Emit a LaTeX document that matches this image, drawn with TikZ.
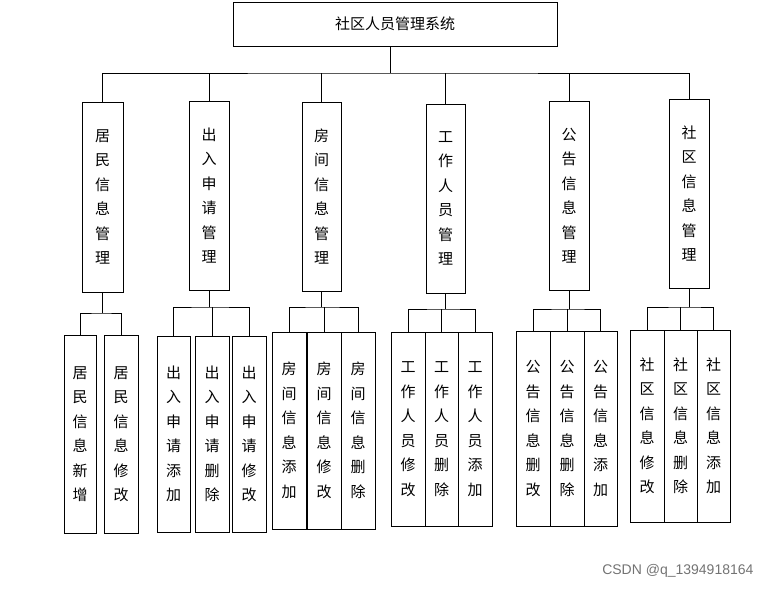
\documentclass[tikz,border=0pt]{standalone}
\usepackage{fontspec}
\newfontfamily\cjk{Noto Sans CJK SC}
\tikzset{bx/.style={draw,thick,inner sep=0pt,align=center,font=\cjk\fontsize{15}{24.5}\selectfont},ln/.style={thick}}
\newcommand\mybox[6]{\node[bx,minimum width={#4-#2},minimum height={#5-#3}] (#1) at ({(#2+#4)/2},{(#3+#5)/2}) {#6};}
\newcommand\grp[5]{\coordinate (t#1) at (#2,#3);
\draw[ln] (#1.south -| t#1) -- (t#1);
\draw[ln] (#4.north) |- (t#1) -| (#5.north);}
\begin{document}
\begin{tikzpicture}[x=1pt,y=-1pt]
\useasboundingbox (0,0) rectangle (772,589);
\mybox{r}{233}{2}{557}{46}{社区人员管理系统}
\mybox{a}{82}{102}{123}{292}{居\\民\\信\\息\\管\\理}
\mybox{b}{189}{101}{229}{290}{出\\入\\申\\请\\管\\理}
\mybox{c}{302}{102}{341}{291}{房\\间\\信\\息\\管\\理}
\mybox{d}{426}{104}{465}{293}{工\\作\\人\\员\\管\\理}
\mybox{e}{549}{101}{589}{290}{公\\告\\信\\息\\管\\理}
\mybox{f}{669}{99}{709}{288}{社\\区\\信\\息\\管\\理}
\coordinate (t) at (390,73);
\draw[ln] (t |- r.south) -- (t);
\draw[ln] (a.north) |- (t) -| (f.north);
\foreach \n in {b,c,d,e}{\draw[ln] (\n.north) -- (\n.north |- t);}
\mybox{a1}{64}{335}{96}{533}{居\\民\\信\\息\\新\\增}
\mybox{a2}{104}{335}{138}{533}{居\\民\\信\\息\\修\\改}
\mybox{b1}{157}{336}{190}{532}{出\\入\\申\\请\\添\\加}
\mybox{b2}{195}{336}{229}{532}{出\\入\\申\\请\\删\\除}
\mybox{b3}{232}{336}{266}{532}{出\\入\\申\\请\\修\\改}
\mybox{c1}{272}{332}{306}{529}{房\\间\\信\\息\\添\\加}
\mybox{c2}{307}{332}{341}{529}{房\\间\\信\\息\\修\\改}
\mybox{c3}{341}{332}{375}{529}{房\\间\\信\\息\\删\\除}
\mybox{d1}{391}{332}{425}{526}{工\\作\\人\\员\\修\\改}
\mybox{d2}{425}{332}{458}{526}{工\\作\\人\\员\\删\\除}
\mybox{d3}{458}{332}{492}{526}{工\\作\\人\\员\\添\\加}
\mybox{e1}{516}{331}{550}{526}{公\\告\\信\\息\\删\\改}
\mybox{e2}{550}{331}{584}{526}{公\\告\\信\\息\\删\\除}
\mybox{e3}{584}{331}{617}{526}{公\\告\\信\\息\\添\\加}
\mybox{f1}{630}{330}{664}{522}{社\\区\\信\\息\\修\\改}
\mybox{f2}{664}{330}{697}{522}{社\\区\\信\\息\\删\\除}
\mybox{f3}{697}{330}{730}{522}{社\\区\\信\\息\\添\\加}
\grp{a}{102}{313}{a1}{a2}
\grp{b}{209}{307}{b1}{b3}
\draw[ln] (b2.north) -- (b2.north |- tb);
\grp{c}{321}{307}{c1}{c3}
\draw[ln] (c2.north) -- (c2.north |- tc);
\grp{d}{445}{309}{d1}{d3}
\draw[ln] (d2.north) -- (d2.north |- td);
\grp{e}{569}{309}{e1}{e3}
\draw[ln] (e2.north) -- (e2.north |- te);
\grp{f}{689}{307}{f1}{f3}
\draw[ln] (f2.north) -- (f2.north |- tf);
\node[font=\fontspec{Liberation Sans}\fontsize{14}{16}\selectfont,text=black!55,anchor=east] (w) at (757,571) {CSDN @q\_1394918164};
\end{tikzpicture}
\end{document}
